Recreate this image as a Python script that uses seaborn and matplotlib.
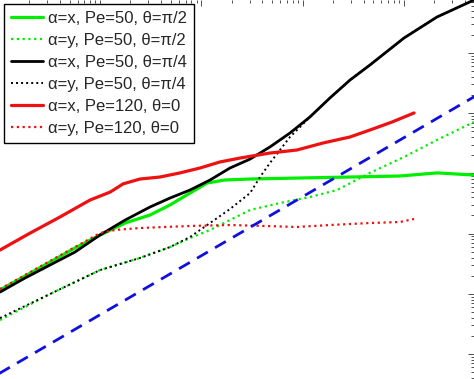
import matplotlib
matplotlib.use("Agg")
import matplotlib.pyplot as plt
import seaborn as sns
import pandas as pd

sns.set_style("white")
plt.rcParams["font.family"] = ["Liberation Sans", "DejaVu Sans"]

# time axis values (log-log plot, no tick labels visible)
t_green = [0.0103, 0.0182, 0.0321, 0.0566, 0.1, 0.177, 0.312, 0.491, 0.774, 1.14, 1.71, 3.03, 9.43, 29.4, 91.6, 212, 492]
var_green_x = [0.0116, 0.0198, 0.0337, 0.0577, 0.0948, 0.150, 0.204, 0.299, 0.472, 0.693, 0.777, 0.807, 0.839, 0.871, 0.906, 1.02, 0.94]

t_green_y = [0.0103, 0.0321, 0.1, 0.248, 0.491, 0.774, 1.22, 1.92, 3.03, 5.98, 11.8, 21.9, 46.2, 100, 212, 492]
var_green_y = [0.00367, 0.00993, 0.0248, 0.0394, 0.0598, 0.0845, 0.115, 0.168, 0.247, 0.322, 0.405, 0.530, 1.02, 1.87, 3.59, 7.14]

t_black = [0.0103, 0.0182, 0.0321, 0.0566, 0.1, 0.177, 0.312, 0.491, 0.774, 1.22, 1.92, 3.03, 4.76, 7.51, 11.8, 18.6, 29.4, 46.2, 100, 212, 492]
var_black_x = [0.0107, 0.0183, 0.0301, 0.0494, 0.0948, 0.168, 0.277, 0.390, 0.530, 0.777, 1.23, 1.73, 2.75, 4.69, 8.65, 17.9, 35.6, 63.2, 177, 396, 759]

t_black_y = [0.0103, 0.0321, 0.1, 0.248, 0.491, 0.774, 1.22, 1.92, 3.03, 3.80, 4.76, 5.98, 7.51, 9.43, 11.8, 18.6, 29.4, 46.2, 100, 212, 492]
var_black_y = [0.00396, 0.00993, 0.0248, 0.0394, 0.0598, 0.0879, 0.150, 0.256, 0.472, 0.871, 1.49, 2.45, 4.03, 5.90, 8.65, 17.9, 35.6, 63.2, 177, 396, 759]

t_red = [0.0103, 0.0204, 0.0403, 0.0796, 0.126, 0.169, 0.248, 0.391, 0.616, 0.971, 1.53, 2.41, 4.76, 8.81, 15.9, 29.4, 46.2, 76.4, 126]
var_red_x = [0.0534, 0.102, 0.189, 0.361, 0.490, 0.670, 0.807, 0.871, 1.02, 1.23, 1.55, 1.80, 2.18, 2.45, 3.20, 4.03, 5.26, 7.14, 10.1]

t_red_y = [0.0103, 0.0321, 0.1, 0.141, 0.248, 0.774, 1.92, 4.06, 8.81, 18.6, 46.2, 91.6, 126]
var_red_y = [0.0120, 0.0351, 0.102, 0.115, 0.124, 0.134, 0.139, 0.134, 0.129, 0.139, 0.150, 0.156, 0.175]

# reference slope-1 line
t_ref = [0.01, 500]
var_ref = [4.7e-4, 19]

labels = ["α=x, Pe=50, θ=π/2", "α=y, Pe=50, θ=π/2",
          "α=x, Pe=50, θ=π/4", "α=y, Pe=50, θ=π/4",
          "α=x, Pe=120, θ=0", "α=y, Pe=120, θ=0"]

fig = plt.figure(figsize=(4.74, 3.79), dpi=100)
ax = fig.add_axes([0, 0, 1, 1])

dot = (0, (1, 1.6))
series = [
    (t_green, var_green_x, "#00ee00", "-", 2.3),
    (t_green_y, var_green_y, "#00ee00", dot, 1.6),
    (t_black, var_black_x, "black", "-", 2.0),
    (t_black_y, var_black_y, "black", dot, 1.4),
    (t_red, var_red_x, "#ee1111", "-", 2.3),
    (t_red_y, var_red_y, "#ee1111", dot, 1.6),
]
for (t, v, c, ls, lw), lab in zip(series, labels):
    df = pd.DataFrame({"t": t, "v": v})
    sns.lineplot(data=df, x="t", y="v", ax=ax, color=c, linestyle=ls,
                 linewidth=lw, label=lab, estimator=None, sort=False)

df_ref = pd.DataFrame({"t": t_ref, "v": var_ref})
sns.lineplot(data=df_ref, x="t", y="v", ax=ax, color="#1010dd",
             linestyle=(0, (4.5, 3)), linewidth=2.0, legend=False,
             estimator=None, sort=False)

ax.set_xscale("log")
ax.set_yscale("log")
ax.set_xlim(0.0103, 492)
ax.set_ylim(3.85e-4, 759)
ax.set_xlabel("")
ax.set_ylabel("")
for s in ax.spines.values():
    s.set_visible(False)
ax.tick_params(which="both", direction="in", top=True, right=True,
               labelbottom=False, labelleft=False, color="#333333", width=0.6)
ax.tick_params(which="major", length=4)
ax.tick_params(which="minor", length=2.5)

leg = ax.legend(loc="upper left", fontsize=12.0, frameon=True, fancybox=False,
                edgecolor="black", framealpha=1, handlelength=1.9,
                handletextpad=0.35, labelspacing=0.42, borderpad=0.4,
                borderaxespad=0.25)
leg.get_frame().set_linewidth(1.0)

fig.savefig("out.png", dpi=100)
